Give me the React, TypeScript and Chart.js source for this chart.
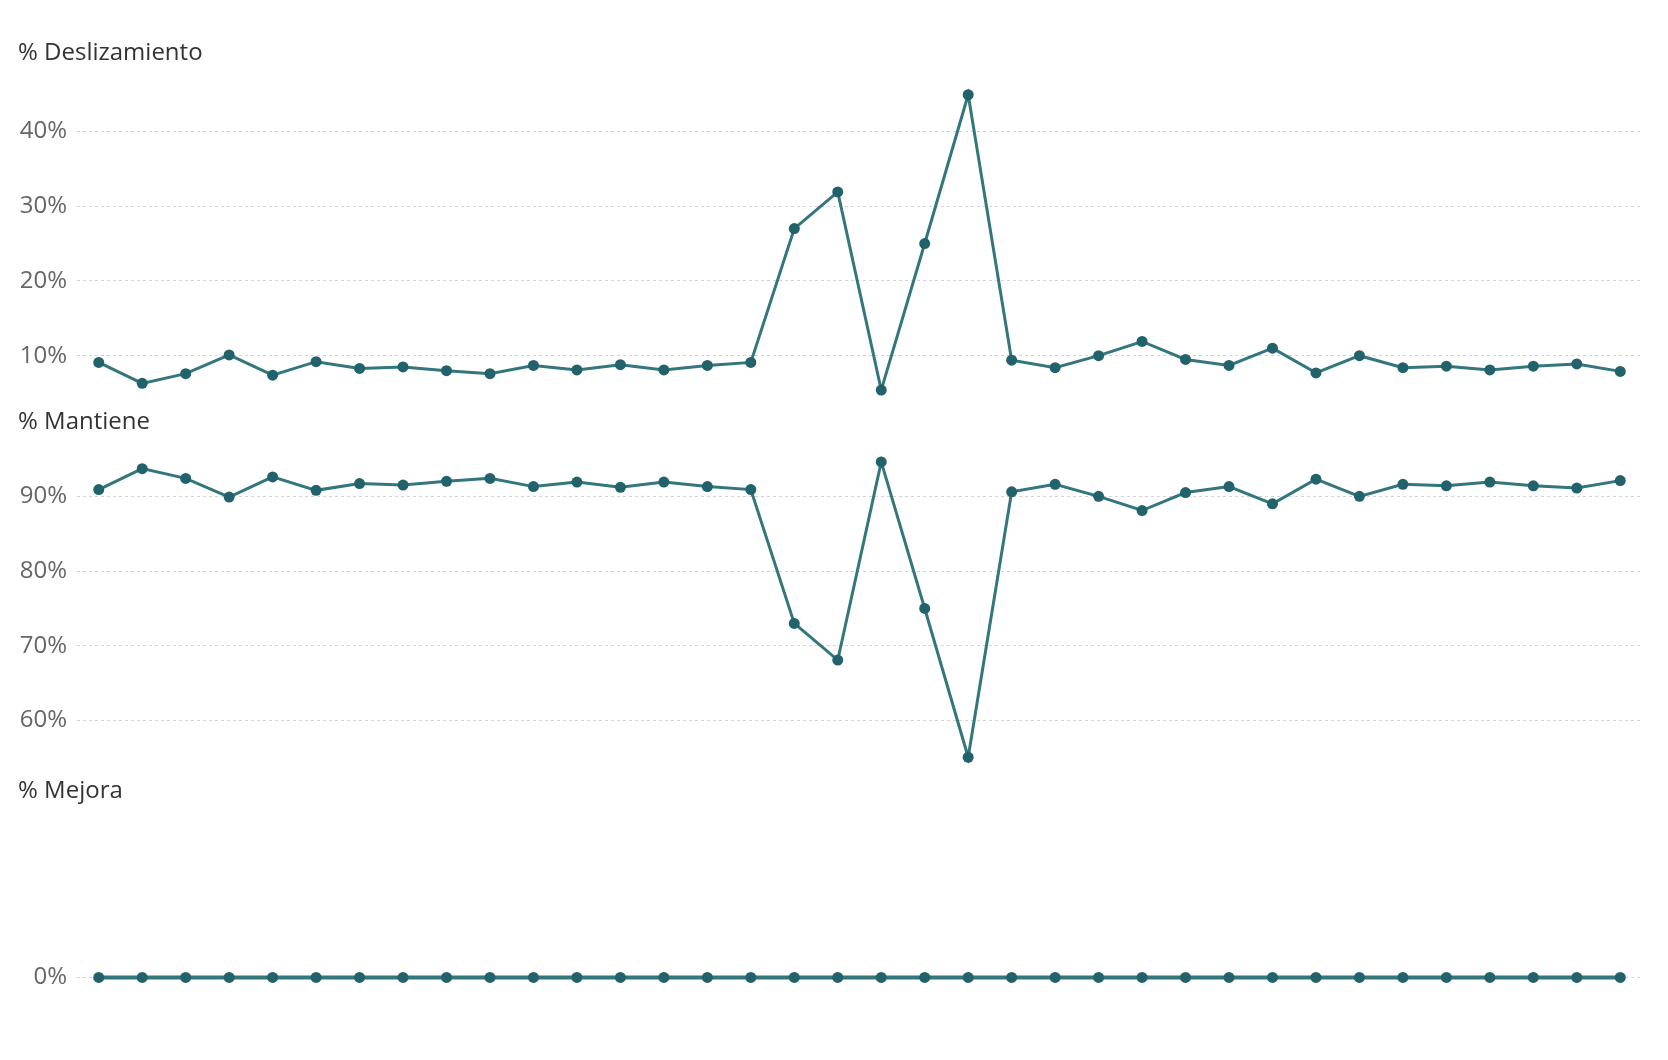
import React, { useEffect, useRef } from "react";
import { Chart, registerables } from "chart.js";

Chart.register(...registerables);

// ---------- data ----------
const categories = [
  "1", "2", "3", "4", "5", "6", "7", "8", "9", "10", "11", "12",
  "13", "14", "15", "16", "17", "18", "19", "20", "21", "22", "23", "24",
  "25", "26", "27", "28", "29", "30", "31", "32", "33", "34", "35", "36",
];

const deslizamiento = [
  9.1, 6.3, 7.6, 10.1, 7.4, 9.2, 8.3, 8.5, 8.0, 7.6, 8.7, 8.1,
  8.8, 8.1, 8.7, 9.1, 27.0, 31.9, 5.4, 25.0, 44.9, 9.4, 8.4, 10.0,
  11.9, 9.5, 8.7, 11.0, 7.7, 10.0, 8.4, 8.6, 8.1, 8.6, 8.9, 7.9,
];

const mantiene = [
  90.9, 93.7, 92.4, 89.9, 92.6, 90.8, 91.7, 91.5, 92.0, 92.4, 91.3, 91.9,
  91.2, 91.9, 91.3, 90.9, 73.0, 68.1, 94.6, 75.0, 55.1, 90.6, 91.6, 90.0,
  88.1, 90.5, 91.3, 89.0, 92.3, 90.0, 91.6, 91.4, 91.9, 91.4, 91.1, 92.1,
];

const mejora = [
  0, 0, 0, 0, 0, 0, 0, 0, 0, 0, 0, 0,
  0, 0, 0, 0, 0, 0, 0, 0, 0, 0, 0, 0,
  0, 0, 0, 0, 0, 0, 0, 0, 0, 0, 0, 0,
];

const panelTitles = ["% Deslizamiento", "% Mantiene", "% Mejora"];
const deslizTicks = [10, 20, 30, 40];
const mantieneTicks = [60, 70, 80, 90];
const mejoraTicks = [0];

// ---------- styles ----------
const FONT = "'Open Sans', 'Liberation Sans', sans-serif";
const LINE = "#33767b";
const POINT = "#22626a";
const GRID = "#d4d4d4";

function yScale(min: number, max: number, tickValues: number[], weight: number) {
  return {
    type: "linear" as const,
    position: "left" as const,
    stack: "panels",
    stackWeight: weight,
    min,
    max,
    border: { display: false, dash: [3, 3] },
    grid: { color: GRID, lineWidth: 1, drawTicks: false },
    ticks: {
      color: "#666666",
      font: { family: FONT, size: 24 },
      padding: 10,
      callback: (v: any) => `${v}%`,
    },
    afterBuildTicks: (s: any) => {
      s.ticks = tickValues.map((v) => ({ value: v }));
    },
    afterFit: (s: any) => {
      s.width = 69;
    },
  };
}

const panelIds = ["yDesliz", "yMantiene", "yMejora"];

const titlePlugin = {
  id: "panelTitles",
  afterDraw(chart: any) {
    const ctx = chart.ctx;
    ctx.save();
    ctx.font = `24px ${FONT}`;
    ctx.fillStyle = "#333333";
    ctx.textAlign = "left";
    ctx.textBaseline = "middle";
    panelIds.forEach((id, i) => {
      const s = chart.scales[id];
      if (s) ctx.fillText(panelTitles[i], 10, s.top + 20);
    });
    ctx.restore();
  },
};

function ds(label: string, data: number[], axis: string, width: number) {
  return {
    label,
    data,
    yAxisID: axis,
    borderColor: LINE,
    borderWidth: width,
    pointRadius: 5.5,
    pointBackgroundColor: POINT,
    pointBorderColor: POINT,
    pointBorderWidth: 0,
    tension: 0,
    fill: false,
    clip: false as any,
  };
}

export default function App() {
  const ref = useRef<HTMLCanvasElement | null>(null);

  useEffect(() => {
    if (!ref.current) return;
    const chart = new Chart(ref.current, {
      type: "line",
      data: {
        labels: categories,
        datasets: [
          ds(panelTitles[0], deslizamiento, "yDesliz", 3),
          ds(panelTitles[1], mantiene, "yMantiene", 3),
          ds(panelTitles[2], mejora, "yMejora", 4),
        ],
      },
      options: {
        animation: false,
        responsive: true,
        maintainAspectRatio: false,
        layout: { padding: { top: 25, bottom: 8, left: 0, right: 18 } },
        plugins: { legend: { display: false }, tooltip: { enabled: false } },
        scales: {
          x: { type: "category", offset: true, display: false },
          yMejora: yScale(-6.18, 27.63, mejoraTicks, 257),
          yMantiene: yScale(53.29, 102.63, mantieneTicks, 375),
          yDesliz: yScale(3.82, 53.16, deslizTicks, 375),
        } as any,
      },
      plugins: [titlePlugin],
    });
    return () => chart.destroy();
  }, []);

  return (
    <div style={{ width: 1652, height: 1040, position: "relative" }}>
      <canvas ref={ref} style={{ display: "block" }} />
    </div>
  );
}
